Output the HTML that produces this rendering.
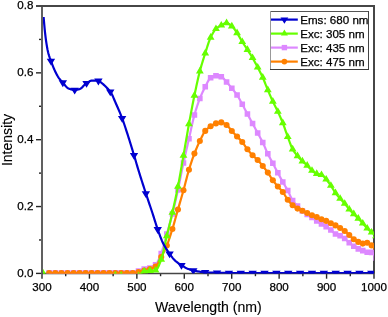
<!DOCTYPE html>
<html><head><meta charset="utf-8"><style>html,body{margin:0;padding:0;background:#fff;width:388px;height:317px;overflow:hidden}svg{display:block}</style></head>
<body><svg width="388" height="317" viewBox="0 0 388 317" style="will-change:transform">
<defs><clipPath id="pc"><rect x="43" y="7" width="330.9" height="266.4"/></clipPath></defs>
<rect width="388" height="317" fill="#fff"/>
<g stroke="#262626" stroke-width="1.4" fill="none"><line x1="42.00" y1="273" x2="42.00" y2="278.70"/><line x1="65.71" y1="273" x2="65.71" y2="276.20"/><line x1="89.43" y1="273" x2="89.43" y2="278.70"/><line x1="113.14" y1="273" x2="113.14" y2="276.20"/><line x1="136.86" y1="273" x2="136.86" y2="278.70"/><line x1="160.57" y1="273" x2="160.57" y2="276.20"/><line x1="184.29" y1="273" x2="184.29" y2="278.70"/><line x1="208.00" y1="273" x2="208.00" y2="276.20"/><line x1="231.71" y1="273" x2="231.71" y2="278.70"/><line x1="255.43" y1="273" x2="255.43" y2="276.20"/><line x1="279.14" y1="273" x2="279.14" y2="278.70"/><line x1="302.86" y1="273" x2="302.86" y2="276.20"/><line x1="326.57" y1="273" x2="326.57" y2="278.70"/><line x1="350.29" y1="273" x2="350.29" y2="276.20"/><line x1="374.00" y1="273" x2="374.00" y2="278.70"/><line x1="41.2" y1="273.40" x2="36.00" y2="273.40"/><line x1="41.2" y1="239.97" x2="39.00" y2="239.97"/><line x1="41.2" y1="206.55" x2="36.00" y2="206.55"/><line x1="41.2" y1="173.12" x2="39.00" y2="173.12"/><line x1="41.2" y1="139.70" x2="36.00" y2="139.70"/><line x1="41.2" y1="106.28" x2="39.00" y2="106.28"/><line x1="41.2" y1="72.85" x2="36.00" y2="72.85"/><line x1="41.2" y1="39.42" x2="39.00" y2="39.42"/><line x1="41.2" y1="6.00" x2="36.00" y2="6.00"/></g>
<line x1="42" y1="273.4" x2="374" y2="273.4" stroke="#464646" stroke-width="1.5"/>
<line x1="374" y1="5" x2="374" y2="273.4" stroke="#464646" stroke-width="2"/>
<g clip-path="url(#pc)">
<path d="M49.14,272.80 L49.64,272.80 L50.14,272.80 L50.64,272.80 L51.14,272.80 L51.64,272.80 L52.14,272.80 L52.64,272.80 L53.14,272.80 L53.64,272.80 L54.14,272.80 L54.64,272.80 L55.14,272.80 L55.64,272.80 L56.14,272.80 L56.64,272.80 L57.14,272.80 L57.64,272.80 L58.14,272.80 L58.64,272.80 L59.14,272.80 L59.64,272.80 L60.14,272.80 L60.64,272.80 L61.14,272.80 L61.64,272.80 L62.14,272.80 L62.64,272.80 L63.14,272.80 L63.64,272.80 L64.14,272.80 L64.64,272.80 L65.14,272.80 L65.64,272.80 L66.14,272.80 L66.64,272.80 L67.14,272.80 L67.64,272.80 L68.14,272.80 L68.64,272.80 L69.14,272.80 L69.64,272.80 L70.14,272.80 L70.64,272.80 L71.14,272.80 L71.64,272.80 L72.14,272.80 L72.64,272.80 L73.14,272.80 L73.64,272.80 L74.14,272.80 L74.64,272.80 L75.14,272.80 L75.64,272.80 L76.14,272.80 L76.64,272.80 L77.14,272.80 L77.64,272.80 L78.14,272.80 L78.64,272.80 L79.14,272.80 L79.64,272.80 L80.14,272.80 L80.64,272.80 L81.14,272.80 L81.64,272.80 L82.14,272.80 L82.64,272.80 L83.14,272.80 L83.64,272.80 L84.14,272.80 L84.64,272.80 L85.14,272.80 L85.64,272.80 L86.14,272.80 L86.64,272.80 L87.14,272.80 L87.64,272.80 L88.14,272.80 L88.64,272.80 L89.14,272.80 L89.64,272.80 L90.14,272.80 L90.64,272.80 L91.14,272.80 L91.64,272.80 L92.14,272.80 L92.64,272.80 L93.14,272.80 L93.64,272.80 L94.14,272.80 L94.64,272.80 L95.14,272.80 L95.64,272.80 L96.14,272.80 L96.64,272.80 L97.14,272.80 L97.64,272.80 L98.14,272.80 L98.64,272.80 L99.14,272.80 L99.64,272.80 L100.14,272.80 L100.64,272.80 L101.14,272.80 L101.64,272.80 L102.14,272.80 L102.64,272.80 L103.14,272.80 L103.64,272.80 L104.14,272.80 L104.64,272.80 L105.14,272.80 L105.64,272.80 L106.14,272.80 L106.64,272.80 L107.14,272.80 L107.64,272.80 L108.14,272.80 L108.64,272.80 L109.14,272.80 L109.64,272.80 L110.14,272.80 L110.64,272.80 L111.14,272.80 L111.64,272.80 L112.14,272.80 L112.64,272.80 L113.14,272.80 L113.64,272.80 L114.14,272.80 L114.64,272.80 L115.14,272.80 L115.64,272.80 L116.14,272.80 L116.64,272.80 L117.14,272.80 L117.64,272.80 L118.14,272.80 L118.64,272.80 L119.14,272.80 L119.64,272.80 L120.14,272.80 L120.64,272.80 L121.14,272.80 L121.64,272.80 L122.14,272.80 L122.64,272.80 L123.14,272.80 L123.64,272.80 L124.14,272.80 L124.64,272.80 L125.14,272.80 L125.64,272.80 L126.14,272.80 L126.64,272.80 L127.14,272.80 L127.64,272.80 L128.14,272.80 L128.64,272.80 L129.14,272.80 L129.64,272.80 L130.14,272.80 L130.64,272.80 L131.14,272.80 L131.64,272.80 L132.14,272.80 L132.64,272.80 L133.14,272.78 L133.64,272.72 L134.14,272.62 L134.64,272.48 L135.14,272.31 L135.64,272.13 L136.14,271.93 L136.64,271.72 L137.14,271.51 L137.64,271.31 L138.14,271.12 L138.64,270.95 L139.14,270.78 L139.64,270.59 L140.14,270.40 L140.64,270.21 L141.14,270.01 L141.64,269.82 L142.14,269.64 L142.64,269.46 L143.14,269.30 L143.64,269.15 L144.14,269.02 L144.64,268.91 L145.14,268.81 L145.64,268.73 L146.14,268.65 L146.64,268.58 L147.14,268.51 L147.64,268.44 L148.14,268.37 L148.64,268.28 L149.14,268.18 L149.64,268.07 L150.14,267.94 L150.64,267.78 L151.14,267.60 L151.64,267.39 L152.14,267.15 L152.64,266.89 L153.14,266.60 L153.64,266.29 L154.14,265.95 L154.64,265.57 L155.14,265.17 L155.64,264.74 L156.14,264.21 L156.64,263.54 L157.14,262.75 L157.64,261.85 L158.14,260.86 L158.64,259.78 L159.14,258.64 L159.64,257.45 L160.14,256.22 L160.64,254.96 L161.14,253.68 L161.64,252.36 L162.14,250.88 L162.64,249.29 L163.14,247.59 L163.64,245.82 L164.14,243.98 L164.64,242.11 L165.14,240.21 L165.64,238.32 L166.14,236.46 L166.64,234.64 L167.14,232.87 L167.64,231.13 L168.14,229.39 L168.64,227.65 L169.14,225.91 L169.64,224.16 L170.14,222.39 L170.64,220.60 L171.14,218.77 L171.64,216.91 L172.14,215.00 L172.64,213.04 L173.14,211.04 L173.64,208.99 L174.14,206.89 L174.64,204.77 L175.14,202.60 L175.64,200.41 L176.14,198.19 L176.64,195.95 L177.14,193.68 L177.64,191.40 L178.14,189.11 L178.64,186.75 L179.14,184.33 L179.64,181.87 L180.14,179.37 L180.64,176.86 L181.14,174.35 L181.64,171.84 L182.14,169.36 L182.64,166.92 L183.14,164.53 L183.64,162.20 L184.14,159.91 L184.64,157.65 L185.14,155.43 L185.64,153.22 L186.14,151.04 L186.64,148.86 L187.14,146.69 L187.64,144.53 L188.14,142.36 L188.64,140.18 L189.14,137.99 L189.64,135.75 L190.14,133.47 L190.64,131.16 L191.14,128.86 L191.64,126.57 L192.14,124.31 L192.64,122.11 L193.14,119.98 L193.64,117.94 L194.14,116.02 L194.64,114.21 L195.14,112.47 L195.64,110.78 L196.14,109.14 L196.64,107.56 L197.14,106.02 L197.64,104.53 L198.14,103.09 L198.64,101.69 L199.14,100.34 L199.64,99.03 L200.14,97.77 L200.64,96.55 L201.14,95.37 L201.64,94.22 L202.14,93.11 L202.64,92.03 L203.14,90.98 L203.64,89.95 L204.14,88.95 L204.64,87.97 L205.14,87.01 L205.64,86.05 L206.14,85.06 L206.64,84.04 L207.14,83.02 L207.64,82.03 L208.14,81.09 L208.64,80.21 L209.14,79.42 L209.64,78.74 L210.14,78.19 L210.64,77.79 L211.14,77.48 L211.64,77.18 L212.14,76.90 L212.64,76.63 L213.14,76.40 L213.64,76.19 L214.14,76.01 L214.64,75.87 L215.14,75.77 L215.64,75.71 L216.14,75.70 L216.64,75.72 L217.14,75.76 L217.64,75.82 L218.14,75.90 L218.64,75.99 L219.14,76.10 L219.64,76.22 L220.14,76.36 L220.64,76.50 L221.14,76.65 L221.64,76.84 L222.14,77.13 L222.64,77.52 L223.14,77.98 L223.64,78.51 L224.14,79.08 L224.64,79.68 L225.14,80.30 L225.64,80.91 L226.14,81.51 L226.64,82.07 L227.14,82.63 L227.64,83.20 L228.14,83.78 L228.64,84.38 L229.14,84.98 L229.64,85.59 L230.14,86.20 L230.64,86.82 L231.14,87.44 L231.64,88.06 L232.14,88.68 L232.64,89.29 L233.14,89.90 L233.64,90.50 L234.14,91.11 L234.64,91.73 L235.14,92.36 L235.64,93.01 L236.14,93.69 L236.64,94.39 L237.14,95.12 L237.64,95.89 L238.14,96.71 L238.64,97.56 L239.14,98.44 L239.64,99.34 L240.14,100.26 L240.64,101.19 L241.14,102.13 L241.64,103.06 L242.14,103.98 L242.64,104.90 L243.14,105.84 L243.64,106.78 L244.14,107.73 L244.64,108.68 L245.14,109.64 L245.64,110.60 L246.14,111.56 L246.64,112.51 L247.14,113.46 L247.64,114.40 L248.14,115.33 L248.64,116.26 L249.14,117.18 L249.64,118.10 L250.14,119.02 L250.64,119.94 L251.14,120.86 L251.64,121.78 L252.14,122.71 L252.64,123.63 L253.14,124.56 L253.64,125.49 L254.14,126.41 L254.64,127.34 L255.14,128.27 L255.64,129.20 L256.14,130.13 L256.64,131.06 L257.14,131.99 L257.64,132.93 L258.14,133.85 L258.64,134.77 L259.14,135.67 L259.64,136.58 L260.14,137.49 L260.64,138.41 L261.14,139.34 L261.64,140.29 L262.14,141.26 L262.64,142.25 L263.14,143.28 L263.64,144.37 L264.14,145.49 L264.64,146.63 L265.14,147.79 L265.64,148.96 L266.14,150.12 L266.64,151.26 L267.14,152.37 L267.64,153.44 L268.14,154.46 L268.64,155.45 L269.14,156.42 L269.64,157.36 L270.14,158.30 L270.64,159.22 L271.14,160.14 L271.64,161.06 L272.14,161.99 L272.64,162.92 L273.14,163.87 L273.64,164.82 L274.14,165.77 L274.64,166.73 L275.14,167.68 L275.64,168.64 L276.14,169.59 L276.64,170.54 L277.14,171.49 L277.64,172.43 L278.14,173.37 L278.64,174.31 L279.14,175.25 L279.64,176.19 L280.14,177.13 L280.64,178.06 L281.14,178.98 L281.64,179.90 L282.14,180.81 L282.64,181.71 L283.14,182.60 L283.64,183.46 L284.14,184.31 L284.64,185.15 L285.14,185.98 L285.64,186.82 L286.14,187.67 L286.64,188.53 L287.14,189.41 L287.64,190.32 L288.14,191.28 L288.64,192.32 L289.14,193.40 L289.64,194.52 L290.14,195.64 L290.64,196.74 L291.14,197.80 L291.64,198.80 L292.14,199.70 L292.64,200.49 L293.14,201.19 L293.64,201.83 L294.14,202.43 L294.64,203.00 L295.14,203.54 L295.64,204.06 L296.14,204.57 L296.64,205.08 L297.14,205.59 L297.64,206.13 L298.14,206.67 L298.64,207.22 L299.14,207.76 L299.64,208.31 L300.14,208.84 L300.64,209.36 L301.14,209.86 L301.64,210.34 L302.14,210.80 L302.64,211.22 L303.14,211.63 L303.64,212.02 L304.14,212.39 L304.64,212.76 L305.14,213.11 L305.64,213.45 L306.14,213.79 L306.64,214.13 L307.14,214.46 L307.64,214.80 L308.14,215.11 L308.64,215.42 L309.14,215.73 L309.64,216.03 L310.14,216.33 L310.64,216.64 L311.14,216.95 L311.64,217.27 L312.14,217.61 L312.64,217.96 L313.14,218.32 L313.64,218.70 L314.14,219.08 L314.64,219.46 L315.14,219.84 L315.64,220.21 L316.14,220.58 L316.64,220.93 L317.14,221.27 L317.64,221.60 L318.14,221.92 L318.64,222.24 L319.14,222.56 L319.64,222.87 L320.14,223.18 L320.64,223.49 L321.14,223.79 L321.64,224.10 L322.14,224.40 L322.64,224.70 L323.14,224.99 L323.64,225.28 L324.14,225.57 L324.64,225.86 L325.14,226.16 L325.64,226.46 L326.14,226.77 L326.64,227.09 L327.14,227.42 L327.64,227.74 L328.14,228.07 L328.64,228.41 L329.14,228.75 L329.64,229.10 L330.14,229.47 L330.64,229.84 L331.14,230.23 L331.64,230.66 L332.14,231.12 L332.64,231.61 L333.14,232.09 L333.64,232.57 L334.14,233.02 L334.64,233.43 L335.14,233.79 L335.64,234.07 L336.14,234.31 L336.64,234.52 L337.14,234.71 L337.64,234.88 L338.14,235.05 L338.64,235.22 L339.14,235.39 L339.64,235.59 L340.14,235.81 L340.64,236.05 L341.14,236.30 L341.64,236.57 L342.14,236.85 L342.64,237.14 L343.14,237.44 L343.64,237.77 L344.14,238.10 L344.64,238.45 L345.14,238.84 L345.64,239.27 L346.14,239.74 L346.64,240.23 L347.14,240.74 L347.64,241.25 L348.14,241.76 L348.64,242.24 L349.14,242.70 L349.64,243.12 L350.14,243.54 L350.64,243.95 L351.14,244.35 L351.64,244.75 L352.14,245.13 L352.64,245.50 L353.14,245.86 L353.64,246.20 L354.14,246.53 L354.64,246.85 L355.14,247.17 L355.64,247.48 L356.14,247.77 L356.64,248.06 L357.14,248.33 L357.64,248.59 L358.14,248.83 L358.64,249.06 L359.14,249.27 L359.64,249.47 L360.14,249.66 L360.64,249.84 L361.14,250.02 L361.64,250.20 L362.14,250.37 L362.64,250.56 L363.14,250.75 L363.64,250.96 L364.14,251.19 L364.64,251.41 L365.14,251.63 L365.64,251.82 L366.14,251.99 L366.64,252.12 L367.14,252.19 L367.64,252.23 L368.14,252.26 L368.64,252.27 L369.14,252.29 L369.64,252.30 L370.14,252.32 L370.64,252.34 L371.14,252.36 L371.64,252.40 L372.14,252.55 L372.64,252.88 L373.14,253.37 L373.64,253.98 L374.14,254.71 L374.64,255.53 L375.14,256.41 L375.64,257.33 L376.00,258.00" fill="none" stroke="#dd88ff" stroke-width="2.2" stroke-linejoin="round"/>
<path d="M46.34,270.00h5.6v5.6h-5.6ZM52.50,270.00h5.6v5.6h-5.6ZM58.63,270.00h5.6v5.6h-5.6ZM64.74,270.00h5.6v5.6h-5.6ZM70.81,270.00h5.6v5.6h-5.6ZM76.85,270.00h5.6v5.6h-5.6ZM82.87,270.00h5.6v5.6h-5.6ZM88.85,270.00h5.6v5.6h-5.6ZM94.81,270.00h5.6v5.6h-5.6ZM100.74,270.00h5.6v5.6h-5.6ZM106.64,270.00h5.6v5.6h-5.6ZM112.51,270.00h5.6v5.6h-5.6ZM118.35,270.00h5.6v5.6h-5.6ZM124.16,270.00h5.6v5.6h-5.6ZM129.94,270.00h5.6v5.6h-5.6ZM135.69,268.20h5.6v5.6h-5.6ZM141.42,266.20h5.6v5.6h-5.6ZM147.11,265.20h5.6v5.6h-5.6ZM152.78,262.00h5.6v5.6h-5.6ZM158.41,250.70h5.6v5.6h-5.6ZM164.02,231.20h5.6v5.6h-5.6ZM169.60,211.20h5.6v5.6h-5.6ZM175.15,187.20h5.6v5.6h-5.6ZM180.67,160.20h5.6v5.6h-5.6ZM186.16,136.00h5.6v5.6h-5.6ZM191.62,112.20h5.6v5.6h-5.6ZM197.05,95.70h5.6v5.6h-5.6ZM202.45,84.00h5.6v5.6h-5.6ZM207.83,75.00h5.6v5.6h-5.6ZM213.17,72.90h5.6v5.6h-5.6ZM218.49,73.90h5.6v5.6h-5.6ZM223.77,79.20h5.6v5.6h-5.6ZM229.03,85.50h5.6v5.6h-5.6ZM234.26,92.20h5.6v5.6h-5.6ZM239.46,101.40h5.6v5.6h-5.6ZM244.63,111.20h5.6v5.6h-5.6ZM249.77,120.70h5.6v5.6h-5.6ZM254.88,130.20h5.6v5.6h-5.6ZM259.96,139.70h5.6v5.6h-5.6ZM265.02,151.00h5.6v5.6h-5.6ZM270.04,160.50h5.6v5.6h-5.6ZM275.04,170.00h5.6v5.6h-5.6ZM280.00,179.20h5.6v5.6h-5.6ZM284.94,187.70h5.6v5.6h-5.6ZM289.85,197.70h5.6v5.6h-5.6ZM294.72,203.20h5.6v5.6h-5.6ZM299.57,208.20h5.6v5.6h-5.6ZM304.39,211.70h5.6v5.6h-5.6ZM309.18,214.70h5.6v5.6h-5.6ZM313.95,218.20h5.6v5.6h-5.6ZM318.68,221.20h5.6v5.6h-5.6ZM323.38,224.00h5.6v5.6h-5.6ZM328.06,227.20h5.6v5.6h-5.6ZM332.70,231.20h5.6v5.6h-5.6ZM337.32,233.00h5.6v5.6h-5.6ZM341.90,235.70h5.6v5.6h-5.6ZM346.46,240.00h5.6v5.6h-5.6ZM350.99,243.50h5.6v5.6h-5.6ZM355.49,246.10h5.6v5.6h-5.6ZM359.96,247.80h5.6v5.6h-5.6ZM364.40,249.40h5.6v5.6h-5.6ZM368.81,249.60h5.6v5.6h-5.6ZM373.20,255.20h5.6v5.6h-5.6Z" fill="#dd88ff"/>
<path d="M49.14,273.10 L49.64,273.10 L50.14,273.10 L50.64,273.10 L51.14,273.10 L51.64,273.10 L52.14,273.10 L52.64,273.10 L53.14,273.10 L53.64,273.10 L54.14,273.10 L54.64,273.10 L55.14,273.10 L55.64,273.10 L56.14,273.10 L56.64,273.10 L57.14,273.10 L57.64,273.10 L58.14,273.10 L58.64,273.10 L59.14,273.10 L59.64,273.10 L60.14,273.10 L60.64,273.10 L61.14,273.10 L61.64,273.10 L62.14,273.10 L62.64,273.10 L63.14,273.10 L63.64,273.10 L64.14,273.10 L64.64,273.10 L65.14,273.10 L65.64,273.10 L66.14,273.10 L66.64,273.10 L67.14,273.10 L67.64,273.10 L68.14,273.10 L68.64,273.10 L69.14,273.10 L69.64,273.10 L70.14,273.10 L70.64,273.10 L71.14,273.10 L71.64,273.10 L72.14,273.10 L72.64,273.10 L73.14,273.10 L73.64,273.10 L74.14,273.10 L74.64,273.10 L75.14,273.10 L75.64,273.10 L76.14,273.10 L76.64,273.09 L77.14,273.09 L77.64,273.09 L78.14,273.09 L78.64,273.09 L79.14,273.09 L79.64,273.09 L80.14,273.09 L80.64,273.09 L81.14,273.09 L81.64,273.09 L82.14,273.09 L82.64,273.09 L83.14,273.09 L83.64,273.09 L84.14,273.09 L84.64,273.09 L85.14,273.09 L85.64,273.09 L86.14,273.09 L86.64,273.09 L87.14,273.09 L87.64,273.09 L88.14,273.09 L88.64,273.09 L89.14,273.09 L89.64,273.09 L90.14,273.09 L90.64,273.09 L91.14,273.08 L91.64,273.08 L92.14,273.08 L92.64,273.08 L93.14,273.08 L93.64,273.08 L94.14,273.08 L94.64,273.08 L95.14,273.08 L95.64,273.08 L96.14,273.08 L96.64,273.08 L97.14,273.08 L97.64,273.08 L98.14,273.08 L98.64,273.08 L99.14,273.08 L99.64,273.07 L100.14,273.07 L100.64,273.07 L101.14,273.07 L101.64,273.07 L102.14,273.07 L102.64,273.07 L103.14,273.07 L103.64,273.07 L104.14,273.07 L104.64,273.07 L105.14,273.07 L105.64,273.07 L106.14,273.07 L106.64,273.06 L107.14,273.06 L107.64,273.06 L108.14,273.06 L108.64,273.06 L109.14,273.06 L109.64,273.06 L110.14,273.06 L110.64,273.06 L111.14,273.06 L111.64,273.06 L112.14,273.05 L112.64,273.05 L113.14,273.05 L113.64,273.05 L114.14,273.05 L114.64,273.05 L115.14,273.05 L115.64,273.05 L116.14,273.05 L116.64,273.04 L117.14,273.04 L117.64,273.04 L118.14,273.04 L118.64,273.04 L119.14,273.04 L119.64,273.04 L120.14,273.04 L120.64,273.04 L121.14,273.03 L121.64,273.03 L122.14,273.03 L122.64,273.03 L123.14,273.03 L123.64,273.03 L124.14,273.03 L124.64,273.02 L125.14,273.02 L125.64,273.02 L126.14,273.02 L126.64,273.02 L127.14,273.02 L127.64,273.02 L128.14,273.01 L128.64,273.01 L129.14,273.01 L129.64,273.01 L130.14,273.01 L130.64,273.01 L131.14,273.01 L131.64,273.00 L132.14,273.00 L132.64,273.00 L133.14,272.99 L133.64,272.96 L134.14,272.90 L134.64,272.83 L135.14,272.74 L135.64,272.64 L136.14,272.53 L136.64,272.42 L137.14,272.30 L137.64,272.19 L138.14,272.08 L138.64,271.97 L139.14,271.86 L139.64,271.74 L140.14,271.61 L140.64,271.48 L141.14,271.35 L141.64,271.21 L142.14,271.07 L142.64,270.93 L143.14,270.79 L143.64,270.65 L144.14,270.52 L144.64,270.39 L145.14,270.27 L145.64,270.14 L146.14,270.02 L146.64,269.90 L147.14,269.78 L147.64,269.65 L148.14,269.52 L148.64,269.39 L149.14,269.24 L149.64,269.09 L150.14,268.92 L150.64,268.76 L151.14,268.60 L151.64,268.42 L152.14,268.25 L152.64,268.05 L153.14,267.85 L153.64,267.62 L154.14,267.37 L154.64,267.10 L155.14,266.79 L155.64,266.45 L156.14,266.01 L156.64,265.42 L157.14,264.72 L157.64,263.92 L158.14,263.03 L158.64,262.09 L159.14,261.11 L159.64,260.10 L160.14,259.09 L160.64,258.09 L161.14,257.13 L161.64,256.21 L162.14,255.27 L162.64,254.33 L163.14,253.37 L163.64,252.40 L164.14,251.40 L164.64,250.38 L165.14,249.32 L165.64,248.23 L166.14,247.10 L166.64,245.93 L167.14,244.71 L167.64,243.42 L168.14,242.07 L168.64,240.66 L169.14,239.20 L169.64,237.71 L170.14,236.17 L170.64,234.61 L171.14,233.03 L171.64,231.43 L172.14,229.83 L172.64,228.21 L173.14,226.56 L173.64,224.86 L174.14,223.12 L174.64,221.35 L175.14,219.56 L175.64,217.76 L176.14,215.95 L176.64,214.15 L177.14,212.35 L177.64,210.58 L178.14,208.82 L178.64,207.09 L179.14,205.36 L179.64,203.64 L180.14,201.92 L180.64,200.20 L181.14,198.48 L181.64,196.75 L182.14,195.00 L182.64,193.24 L183.14,191.47 L183.64,189.67 L184.14,187.82 L184.64,185.93 L185.14,184.00 L185.64,182.06 L186.14,180.12 L186.64,178.19 L187.14,176.29 L187.64,174.42 L188.14,172.61 L188.64,170.86 L189.14,169.20 L189.64,167.57 L190.14,165.97 L190.64,164.40 L191.14,162.87 L191.64,161.36 L192.14,159.89 L192.64,158.45 L193.14,157.04 L193.64,155.67 L194.14,154.33 L194.64,153.02 L195.14,151.75 L195.64,150.50 L196.14,149.28 L196.64,148.09 L197.14,146.92 L197.64,145.78 L198.14,144.66 L198.64,143.56 L199.14,142.49 L199.64,141.44 L200.14,140.40 L200.64,139.34 L201.14,138.28 L201.64,137.22 L202.14,136.18 L202.64,135.17 L203.14,134.20 L203.64,133.30 L204.14,132.46 L204.64,131.70 L205.14,131.04 L205.64,130.46 L206.14,129.92 L206.64,129.42 L207.14,128.95 L207.64,128.51 L208.14,128.09 L208.64,127.70 L209.14,127.33 L209.64,126.97 L210.14,126.63 L210.64,126.29 L211.14,125.96 L211.64,125.63 L212.14,125.30 L212.64,124.99 L213.14,124.69 L213.64,124.40 L214.14,124.14 L214.64,123.89 L215.14,123.68 L215.64,123.50 L216.14,123.35 L216.64,123.21 L217.14,123.08 L217.64,122.95 L218.14,122.82 L218.64,122.71 L219.14,122.61 L219.64,122.53 L220.14,122.47 L220.64,122.42 L221.14,122.40 L221.64,122.42 L222.14,122.50 L222.64,122.65 L223.14,122.84 L223.64,123.09 L224.14,123.37 L224.64,123.68 L225.14,124.01 L225.64,124.35 L226.14,124.70 L226.64,125.05 L227.14,125.44 L227.64,125.92 L228.14,126.45 L228.64,127.04 L229.14,127.65 L229.64,128.29 L230.14,128.94 L230.64,129.58 L231.14,130.20 L231.64,130.79 L232.14,131.34 L232.64,131.88 L233.14,132.41 L233.64,132.94 L234.14,133.46 L234.64,133.98 L235.14,134.50 L235.64,135.02 L236.14,135.54 L236.64,136.06 L237.14,136.59 L237.64,137.10 L238.14,137.61 L238.64,138.12 L239.14,138.62 L239.64,139.13 L240.14,139.64 L240.64,140.17 L241.14,140.71 L241.64,141.27 L242.14,141.86 L242.64,142.48 L243.14,143.14 L243.64,143.84 L244.14,144.56 L244.64,145.30 L245.14,146.05 L245.64,146.80 L246.14,147.53 L246.64,148.24 L247.14,148.92 L247.64,149.57 L248.14,150.20 L248.64,150.82 L249.14,151.44 L249.64,152.04 L250.14,152.63 L250.64,153.20 L251.14,153.77 L251.64,154.32 L252.14,154.85 L252.64,155.37 L253.14,155.87 L253.64,156.34 L254.14,156.79 L254.64,157.23 L255.14,157.66 L255.64,158.09 L256.14,158.53 L256.64,158.99 L257.14,159.46 L257.64,159.96 L258.14,160.48 L258.64,161.03 L259.14,161.60 L259.64,162.18 L260.14,162.77 L260.64,163.38 L261.14,163.99 L261.64,164.61 L262.14,165.23 L262.64,165.85 L263.14,166.47 L263.64,167.09 L264.14,167.72 L264.64,168.36 L265.14,169.00 L265.64,169.65 L266.14,170.31 L266.64,170.98 L267.14,171.66 L267.64,172.35 L268.14,173.07 L268.64,173.81 L269.14,174.58 L269.64,175.37 L270.14,176.17 L270.64,176.97 L271.14,177.77 L271.64,178.55 L272.14,179.30 L272.64,180.02 L273.14,180.71 L273.64,181.37 L274.14,182.02 L274.64,182.66 L275.14,183.28 L275.64,183.89 L276.14,184.50 L276.64,185.09 L277.14,185.68 L277.64,186.27 L278.14,186.85 L278.64,187.41 L279.14,187.94 L279.64,188.47 L280.14,188.99 L280.64,189.51 L281.14,190.05 L281.64,190.60 L282.14,191.18 L282.64,191.79 L283.14,192.46 L283.64,193.18 L284.14,193.97 L284.64,194.78 L285.14,195.62 L285.64,196.46 L286.14,197.29 L286.64,198.10 L287.14,198.86 L287.64,199.57 L288.14,200.23 L288.64,200.88 L289.14,201.51 L289.64,202.13 L290.14,202.73 L290.64,203.30 L291.14,203.85 L291.64,204.37 L292.14,204.85 L292.64,205.30 L293.14,205.71 L293.64,206.10 L294.14,206.48 L294.64,206.83 L295.14,207.17 L295.64,207.50 L296.14,207.81 L296.64,208.10 L297.14,208.39 L297.64,208.66 L298.14,208.92 L298.64,209.17 L299.14,209.40 L299.64,209.62 L300.14,209.84 L300.64,210.05 L301.14,210.26 L301.64,210.48 L302.14,210.70 L302.64,210.92 L303.14,211.15 L303.64,211.38 L304.14,211.61 L304.64,211.83 L305.14,212.06 L305.64,212.29 L306.14,212.52 L306.64,212.75 L307.14,212.98 L307.64,213.21 L308.14,213.44 L308.64,213.68 L309.14,213.91 L309.64,214.15 L310.14,214.38 L310.64,214.61 L311.14,214.84 L311.64,215.06 L312.14,215.26 L312.64,215.46 L313.14,215.65 L313.64,215.84 L314.14,216.02 L314.64,216.20 L315.14,216.38 L315.64,216.56 L316.14,216.76 L316.64,216.96 L317.14,217.17 L317.64,217.40 L318.14,217.63 L318.64,217.87 L319.14,218.12 L319.64,218.36 L320.14,218.61 L320.64,218.84 L321.14,219.06 L321.64,219.27 L322.14,219.46 L322.64,219.64 L323.14,219.81 L323.64,219.98 L324.14,220.15 L324.64,220.32 L325.14,220.50 L325.64,220.68 L326.14,220.88 L326.64,221.10 L327.14,221.33 L327.64,221.57 L328.14,221.82 L328.64,222.07 L329.14,222.33 L329.64,222.59 L330.14,222.85 L330.64,223.09 L331.14,223.34 L331.64,223.57 L332.14,223.80 L332.64,224.03 L333.14,224.26 L333.64,224.50 L334.14,224.73 L334.64,224.97 L335.14,225.22 L335.64,225.47 L336.14,225.73 L336.64,226.00 L337.14,226.27 L337.64,226.55 L338.14,226.84 L338.64,227.12 L339.14,227.42 L339.64,227.71 L340.14,228.01 L340.64,228.32 L341.14,228.62 L341.64,228.93 L342.14,229.24 L342.64,229.57 L343.14,229.90 L343.64,230.23 L344.14,230.59 L344.64,230.95 L345.14,231.34 L345.64,231.74 L346.14,232.16 L346.64,232.60 L347.14,233.05 L347.64,233.51 L348.14,233.97 L348.64,234.43 L349.14,234.89 L349.64,235.35 L350.14,235.84 L350.64,236.35 L351.14,236.86 L351.64,237.38 L352.14,237.87 L352.64,238.35 L353.14,238.79 L353.64,239.19 L354.14,239.55 L354.64,239.89 L355.14,240.21 L355.64,240.51 L356.14,240.80 L356.64,241.08 L357.14,241.34 L357.64,241.59 L358.14,241.83 L358.64,242.07 L359.14,242.32 L359.64,242.57 L360.14,242.82 L360.64,243.06 L361.14,243.26 L361.64,243.43 L362.14,243.54 L362.64,243.60 L363.14,243.58 L363.64,243.52 L364.14,243.42 L364.64,243.29 L365.14,243.16 L365.64,243.03 L366.14,242.92 L366.64,242.84 L367.14,242.80 L367.64,242.85 L368.14,243.02 L368.64,243.28 L369.14,243.61 L369.64,243.99 L370.14,244.38 L370.64,244.76 L371.14,245.12 L371.64,245.41 L372.14,245.68 L372.64,245.93 L373.14,246.18 L373.64,246.43 L374.14,246.67 L374.64,246.90 L375.14,247.13 L375.64,247.35 L376.00,247.50" fill="none" stroke="#ff8000" stroke-width="2.2" stroke-linejoin="round"/>
<g fill="#ff8000"><circle cx="49.14" cy="273.10" r="3.05"/><circle cx="55.30" cy="273.10" r="3.05"/><circle cx="61.43" cy="273.10" r="3.05"/><circle cx="67.54" cy="273.10" r="3.05"/><circle cx="73.61" cy="273.10" r="3.05"/><circle cx="79.65" cy="273.09" r="3.05"/><circle cx="85.67" cy="273.09" r="3.05"/><circle cx="91.65" cy="273.08" r="3.05"/><circle cx="97.61" cy="273.08" r="3.05"/><circle cx="103.54" cy="273.07" r="3.05"/><circle cx="109.44" cy="273.06" r="3.05"/><circle cx="115.31" cy="273.05" r="3.05"/><circle cx="121.15" cy="273.03" r="3.05"/><circle cx="126.96" cy="273.02" r="3.05"/><circle cx="132.74" cy="273.00" r="3.05"/><circle cx="138.49" cy="272.00" r="3.05"/><circle cx="144.22" cy="270.50" r="3.05"/><circle cx="149.91" cy="269.00" r="3.05"/><circle cx="155.58" cy="266.50" r="3.05"/><circle cx="161.21" cy="257.00" r="3.05"/><circle cx="166.82" cy="245.50" r="3.05"/><circle cx="172.40" cy="229.00" r="3.05"/><circle cx="177.95" cy="209.50" r="3.05"/><circle cx="183.47" cy="190.30" r="3.05"/><circle cx="188.96" cy="169.80" r="3.05"/><circle cx="194.42" cy="153.60" r="3.05"/><circle cx="199.85" cy="141.00" r="3.05"/><circle cx="205.25" cy="130.90" r="3.05"/><circle cx="210.63" cy="126.30" r="3.05"/><circle cx="215.97" cy="123.40" r="3.05"/><circle cx="221.29" cy="122.40" r="3.05"/><circle cx="226.57" cy="125.00" r="3.05"/><circle cx="231.83" cy="131.00" r="3.05"/><circle cx="237.06" cy="136.50" r="3.05"/><circle cx="242.26" cy="142.00" r="3.05"/><circle cx="247.43" cy="149.30" r="3.05"/><circle cx="252.57" cy="155.30" r="3.05"/><circle cx="257.68" cy="160.00" r="3.05"/><circle cx="262.76" cy="166.00" r="3.05"/><circle cx="267.82" cy="172.60" r="3.05"/><circle cx="272.84" cy="180.30" r="3.05"/><circle cx="277.84" cy="186.50" r="3.05"/><circle cx="282.80" cy="192.00" r="3.05"/><circle cx="287.74" cy="199.70" r="3.05"/><circle cx="292.65" cy="205.30" r="3.05"/><circle cx="297.52" cy="208.60" r="3.05"/><circle cx="302.37" cy="210.80" r="3.05"/><circle cx="307.19" cy="213.00" r="3.05"/><circle cx="311.98" cy="215.20" r="3.05"/><circle cx="316.75" cy="217.00" r="3.05"/><circle cx="321.48" cy="219.20" r="3.05"/><circle cx="326.18" cy="220.90" r="3.05"/><circle cx="330.86" cy="223.20" r="3.05"/><circle cx="335.50" cy="225.40" r="3.05"/><circle cx="340.12" cy="228.00" r="3.05"/><circle cx="344.70" cy="231.00" r="3.05"/><circle cx="349.26" cy="235.00" r="3.05"/><circle cx="353.79" cy="239.30" r="3.05"/><circle cx="358.29" cy="241.90" r="3.05"/><circle cx="362.76" cy="243.60" r="3.05"/><circle cx="367.20" cy="242.80" r="3.05"/><circle cx="371.61" cy="245.40" r="3.05"/><circle cx="376.00" cy="247.50" r="3.05"/></g>
<path d="M42.95,273.00 L43.45,273.47 L43.95,273.97 L44.45,274.50 L44.95,275.04 L45.45,275.57 L45.95,276.09 L46.45,276.57 L46.95,277.01 L47.45,277.38 L47.95,277.68 L48.45,277.89 L48.95,277.99 L49.45,278.00 L49.95,278.00 L50.45,278.00 L50.95,278.00 L51.45,278.00 L51.95,278.00 L52.45,278.00 L52.95,278.00 L53.45,278.00 L53.95,278.00 L54.45,278.00 L54.95,278.00 L55.45,278.00 L55.95,278.00 L56.45,278.00 L56.95,278.00 L57.45,278.00 L57.95,278.00 L58.45,278.00 L58.95,278.00 L59.45,278.00 L59.95,278.00 L60.45,278.00 L60.95,278.00 L61.45,278.00 L61.95,278.00 L62.45,278.00 L62.95,278.00 L63.45,278.00 L63.95,278.00 L64.45,278.00 L64.95,278.00 L65.45,278.00 L65.95,278.00 L66.45,278.00 L66.95,278.00 L67.45,278.00 L67.95,278.00 L68.45,278.00 L68.95,278.00 L69.45,278.00 L69.95,278.00 L70.45,278.00 L70.95,278.00 L71.45,278.00 L71.95,278.00 L72.45,278.00 L72.95,278.00 L73.45,278.00 L73.95,278.00 L74.45,278.00 L74.95,278.00 L75.45,278.00 L75.95,278.00 L76.45,278.00 L76.95,278.00 L77.45,278.00 L77.95,278.00 L78.45,278.00 L78.95,278.00 L79.45,278.00 L79.95,278.00 L80.45,278.00 L80.95,278.00 L81.45,278.00 L81.95,278.00 L82.45,278.00 L82.95,278.00 L83.45,278.00 L83.95,278.00 L84.45,278.00 L84.95,278.00 L85.45,278.00 L85.95,278.00 L86.45,278.00 L86.95,278.00 L87.45,278.00 L87.95,278.00 L88.45,278.00 L88.95,278.00 L89.45,278.00 L89.95,278.00 L90.45,278.00 L90.95,278.00 L91.45,278.00 L91.95,278.00 L92.45,278.00 L92.95,278.00 L93.45,278.00 L93.95,278.00 L94.45,278.00 L94.95,278.00 L95.45,278.00 L95.95,278.00 L96.45,278.00 L96.95,278.00 L97.45,278.00 L97.95,278.00 L98.45,278.00 L98.95,278.00 L99.45,278.00 L99.95,278.00 L100.45,278.00 L100.95,278.00 L101.45,278.00 L101.95,278.00 L102.45,278.00 L102.95,278.00 L103.45,278.00 L103.95,278.00 L104.45,278.00 L104.95,278.00 L105.45,278.00 L105.95,278.00 L106.45,278.00 L106.95,278.00 L107.45,278.00 L107.95,278.00 L108.45,278.00 L108.95,278.00 L109.45,278.00 L109.95,277.94 L110.45,277.79 L110.95,277.55 L111.45,277.27 L111.95,276.94 L112.45,276.60 L112.95,276.26 L113.45,275.94 L113.95,275.67 L114.45,275.46 L114.95,275.33 L115.45,275.30 L115.95,275.30 L116.45,275.30 L116.95,275.30 L117.45,275.30 L117.95,275.30 L118.45,275.30 L118.95,275.30 L119.45,275.30 L119.95,275.30 L120.45,275.30 L120.95,275.30 L121.45,275.32 L121.95,275.44 L122.45,275.65 L122.95,275.92 L123.45,276.24 L123.95,276.58 L124.45,276.93 L124.95,277.26 L125.45,277.55 L125.95,277.78 L126.45,277.94 L126.95,278.00 L127.45,278.00 L127.95,278.00 L128.45,278.00 L128.95,278.00 L129.45,278.00 L129.95,278.00 L130.45,278.00 L130.95,278.00 L131.45,278.00 L131.95,278.00 L132.45,278.00 L132.95,278.00 L133.45,277.95 L133.95,277.87 L134.45,277.75 L134.95,277.60 L135.45,277.42 L135.95,277.21 L136.45,276.99 L136.95,276.76 L137.45,276.51 L137.95,276.27 L138.45,276.02 L138.95,275.73 L139.45,275.35 L139.95,274.90 L140.45,274.40 L140.95,273.87 L141.45,273.33 L141.95,272.82 L142.45,272.34 L142.95,271.93 L143.45,271.59 L143.95,271.37 L144.45,271.26 L144.95,271.18 L145.45,271.10 L145.95,271.04 L146.45,270.99 L146.95,270.94 L147.45,270.89 L147.95,270.85 L148.45,270.81 L148.95,270.78 L149.45,270.74 L149.95,270.70 L150.45,270.66 L150.95,270.63 L151.45,270.60 L151.95,270.58 L152.45,270.55 L152.95,270.53 L153.45,270.50 L153.95,270.46 L154.45,270.42 L154.95,270.38 L155.45,270.32 L155.95,270.18 L156.45,269.82 L156.95,269.25 L157.45,268.49 L157.95,267.58 L158.45,266.54 L158.95,265.38 L159.45,264.15 L159.95,262.85 L160.45,261.53 L160.95,260.19 L161.45,258.84 L161.95,257.28 L162.45,255.49 L162.95,253.51 L163.45,251.39 L163.95,249.15 L164.45,246.84 L164.95,244.49 L165.45,242.14 L165.95,239.83 L166.45,237.59 L166.95,235.45 L167.45,233.36 L167.95,231.29 L168.45,229.22 L168.95,227.15 L169.45,225.07 L169.95,222.99 L170.45,220.89 L170.95,218.78 L171.45,216.64 L171.95,214.47 L172.45,212.27 L172.95,210.04 L173.45,207.81 L173.95,205.56 L174.45,203.29 L174.95,200.99 L175.45,198.67 L175.95,196.32 L176.45,193.92 L176.95,191.49 L177.45,189.01 L177.95,186.48 L178.45,183.88 L178.95,181.21 L179.45,178.48 L179.95,175.69 L180.45,172.85 L180.95,169.99 L181.45,167.11 L181.95,164.21 L182.45,161.32 L182.95,158.45 L183.45,155.59 L183.95,152.74 L184.45,149.86 L184.95,146.95 L185.45,144.04 L185.95,141.13 L186.45,138.22 L186.95,135.32 L187.45,132.45 L187.95,129.60 L188.45,126.79 L188.95,124.04 L189.45,121.31 L189.95,118.59 L190.45,115.89 L190.95,113.21 L191.45,110.56 L191.95,107.93 L192.45,105.33 L192.95,102.77 L193.45,100.25 L193.95,97.78 L194.45,95.34 L194.95,92.94 L195.45,90.55 L195.95,88.17 L196.45,85.82 L196.95,83.51 L197.45,81.24 L197.95,79.02 L198.45,76.87 L198.95,74.77 L199.45,72.76 L199.95,70.82 L200.45,68.96 L200.95,67.16 L201.45,65.41 L201.95,63.71 L202.45,62.06 L202.95,60.43 L203.45,58.84 L203.95,57.26 L204.45,55.70 L204.95,54.14 L205.45,52.58 L205.95,51.00 L206.45,49.39 L206.95,47.78 L207.45,46.18 L207.95,44.62 L208.45,43.11 L208.95,41.66 L209.45,40.29 L209.95,39.03 L210.45,37.88 L210.95,36.84 L211.45,35.83 L211.95,34.86 L212.45,33.93 L212.95,33.04 L213.45,32.20 L213.95,31.42 L214.45,30.69 L214.95,30.03 L215.45,29.44 L215.95,28.92 L216.45,28.46 L216.95,28.04 L217.45,27.64 L217.95,27.28 L218.45,26.94 L218.95,26.62 L219.45,26.31 L219.95,26.03 L220.45,25.75 L220.95,25.48 L221.45,25.21 L221.95,24.93 L222.45,24.64 L222.95,24.35 L223.45,24.06 L223.95,23.79 L224.45,23.54 L224.95,23.33 L225.45,23.17 L225.95,23.05 L226.45,23.00 L226.95,23.03 L227.45,23.14 L227.95,23.32 L228.45,23.57 L228.95,23.88 L229.45,24.23 L229.95,24.62 L230.45,25.03 L230.95,25.45 L231.45,25.88 L231.95,26.30 L232.45,26.77 L232.95,27.30 L233.45,27.88 L233.95,28.51 L234.45,29.18 L234.95,29.88 L235.45,30.61 L235.95,31.35 L236.45,32.09 L236.95,32.84 L237.45,33.59 L237.95,34.40 L238.45,35.24 L238.95,36.11 L239.45,36.99 L239.95,37.89 L240.45,38.79 L240.95,39.68 L241.45,40.55 L241.95,41.40 L242.45,42.21 L242.95,42.99 L243.45,43.76 L243.95,44.51 L244.45,45.25 L244.95,45.99 L245.45,46.73 L245.95,47.47 L246.45,48.21 L246.95,48.97 L247.45,49.73 L247.95,50.51 L248.45,51.28 L248.95,52.06 L249.45,52.83 L249.95,53.62 L250.45,54.41 L250.95,55.21 L251.45,56.02 L251.95,56.85 L252.45,57.70 L252.95,58.56 L253.45,59.44 L253.95,60.35 L254.45,61.26 L254.95,62.19 L255.45,63.13 L255.95,64.08 L256.45,65.04 L256.95,66.00 L257.45,66.96 L257.95,67.92 L258.45,68.87 L258.95,69.82 L259.45,70.78 L259.95,71.74 L260.45,72.72 L260.95,73.71 L261.45,74.72 L261.95,75.75 L262.45,76.82 L262.95,77.92 L263.45,79.07 L263.95,80.27 L264.45,81.51 L264.95,82.77 L265.45,84.05 L265.95,85.34 L266.45,86.62 L266.95,87.88 L267.45,89.12 L267.95,90.32 L268.45,91.50 L268.95,92.68 L269.45,93.86 L269.95,95.02 L270.45,96.18 L270.95,97.32 L271.45,98.45 L271.95,99.56 L272.45,100.66 L272.95,101.74 L273.45,102.78 L273.95,103.80 L274.45,104.80 L274.95,105.79 L275.45,106.77 L275.95,107.75 L276.45,108.74 L276.95,109.75 L277.45,110.78 L277.95,111.85 L278.45,112.93 L278.95,114.02 L279.45,115.12 L279.95,116.24 L280.45,117.37 L280.95,118.52 L281.45,119.70 L281.95,120.90 L282.45,122.12 L282.95,123.38 L283.45,124.69 L283.95,126.06 L284.45,127.46 L284.95,128.89 L285.45,130.34 L285.95,131.79 L286.45,133.23 L286.95,134.65 L287.45,136.03 L287.95,137.37 L288.45,138.73 L288.95,140.12 L289.45,141.50 L289.95,142.88 L290.45,144.21 L290.95,145.50 L291.45,146.71 L291.95,147.83 L292.45,148.84 L292.95,149.74 L293.45,150.57 L293.95,151.35 L294.45,152.08 L294.95,152.78 L295.45,153.44 L295.95,154.08 L296.45,154.70 L296.95,155.31 L297.45,155.91 L297.95,156.51 L298.45,157.09 L298.95,157.66 L299.45,158.21 L299.95,158.75 L300.45,159.27 L300.95,159.79 L301.45,160.29 L301.95,160.79 L302.45,161.28 L302.95,161.75 L303.45,162.20 L303.95,162.64 L304.45,163.07 L304.95,163.49 L305.45,163.92 L305.95,164.36 L306.45,164.80 L306.95,165.27 L307.45,165.76 L307.95,166.28 L308.45,166.84 L308.95,167.41 L309.45,167.99 L309.95,168.56 L310.45,169.12 L310.95,169.65 L311.45,170.14 L311.95,170.57 L312.45,170.98 L312.95,171.37 L313.45,171.76 L313.95,172.13 L314.45,172.49 L314.95,172.81 L315.45,173.11 L315.95,173.37 L316.45,173.59 L316.95,173.77 L317.45,173.91 L317.95,174.02 L318.45,174.12 L318.95,174.20 L319.45,174.29 L319.95,174.38 L320.45,174.49 L320.95,174.62 L321.45,174.79 L321.95,175.03 L322.45,175.36 L322.95,175.77 L323.45,176.26 L323.95,176.79 L324.45,177.36 L324.95,177.95 L325.45,178.55 L325.95,179.14 L326.45,179.71 L326.95,180.30 L327.45,180.92 L327.95,181.56 L328.45,182.22 L328.95,182.90 L329.45,183.59 L329.95,184.30 L330.45,185.01 L330.95,185.74 L331.45,186.50 L331.95,187.29 L332.45,188.12 L332.95,188.96 L333.45,189.80 L333.95,190.63 L334.45,191.43 L334.95,192.21 L335.45,192.93 L335.95,193.61 L336.45,194.26 L336.95,194.89 L337.45,195.50 L337.95,196.10 L338.45,196.68 L338.95,197.26 L339.45,197.84 L339.95,198.41 L340.45,198.98 L340.95,199.53 L341.45,200.07 L341.95,200.60 L342.45,201.13 L342.95,201.66 L343.45,202.20 L343.95,202.74 L344.45,203.31 L344.95,203.89 L345.45,204.50 L345.95,205.13 L346.45,205.77 L346.95,206.42 L347.45,207.07 L347.95,207.71 L348.45,208.34 L348.95,208.94 L349.45,209.51 L349.95,210.06 L350.45,210.60 L350.95,211.12 L351.45,211.64 L351.95,212.15 L352.45,212.65 L352.95,213.15 L353.45,213.65 L353.95,214.16 L354.45,214.66 L354.95,215.16 L355.45,215.65 L355.95,216.15 L356.45,216.64 L356.95,217.13 L357.45,217.64 L357.95,218.15 L358.45,218.67 L358.95,219.20 L359.45,219.74 L359.95,220.29 L360.45,220.84 L360.95,221.39 L361.45,221.95 L361.95,222.50 L362.45,223.06 L362.95,223.61 L363.45,224.17 L363.95,224.74 L364.45,225.31 L364.95,225.87 L365.45,226.44 L365.95,226.99 L366.45,227.53 L366.95,228.05 L367.45,228.55 L367.95,229.03 L368.45,229.50 L368.95,229.96 L369.45,230.40 L369.95,230.85 L370.45,231.29 L370.95,231.72 L371.45,232.16 L371.95,232.59 L372.45,233.03 L372.95,233.46 L373.45,233.88 L373.95,234.31 L374.45,234.73 L374.95,235.14 L375.45,235.55 L375.95,235.96 L376.00,236.00" fill="none" stroke="#66ff00" stroke-width="2.2" stroke-linejoin="round"/>
<path d="M42.95,268.60L46.85,275.20L39.05,275.20ZM49.14,273.60L53.04,280.20L45.24,280.20ZM55.30,273.60L59.20,280.20L51.40,280.20ZM61.43,273.60L65.33,280.20L57.53,280.20ZM67.54,273.60L71.44,280.20L63.64,280.20ZM73.61,273.60L77.51,280.20L69.71,280.20ZM79.65,273.60L83.55,280.20L75.75,280.20ZM85.67,273.60L89.57,280.20L81.77,280.20ZM91.65,273.60L95.55,280.20L87.75,280.20ZM97.61,273.60L101.51,280.20L93.71,280.20ZM103.54,273.60L107.44,280.20L99.64,280.20ZM109.44,273.60L113.34,280.20L105.54,280.20ZM115.31,270.90L119.21,277.50L111.41,277.50ZM121.15,270.90L125.05,277.50L117.25,277.50ZM126.96,273.60L130.86,280.20L123.06,280.20ZM132.74,273.60L136.64,280.20L128.84,280.20ZM138.49,271.60L142.39,278.20L134.59,278.20ZM144.22,266.90L148.12,273.50L140.32,273.50ZM149.91,266.30L153.81,272.90L146.01,272.90ZM155.58,265.90L159.48,272.50L151.68,272.50ZM161.21,255.10L165.11,261.70L157.31,261.70ZM166.82,231.60L170.72,238.20L162.92,238.20ZM172.40,208.10L176.30,214.70L168.50,214.70ZM177.95,182.10L181.85,188.70L174.05,188.70ZM183.47,151.10L187.37,157.70L179.57,157.70ZM188.96,119.60L192.86,126.20L185.06,126.20ZM194.42,91.10L198.32,97.70L190.52,97.70ZM199.85,66.80L203.75,73.40L195.95,73.40ZM205.25,48.80L209.15,55.40L201.35,55.40ZM210.63,33.10L214.53,39.70L206.73,39.70ZM215.97,24.50L219.87,31.10L212.07,31.10ZM221.29,20.90L225.19,27.50L217.39,27.50ZM226.57,18.60L230.47,25.20L222.67,25.20ZM231.83,21.80L235.73,28.40L227.93,28.40ZM237.06,28.60L240.96,35.20L233.16,35.20ZM242.26,37.50L246.16,44.10L238.36,44.10ZM247.43,45.30L251.33,51.90L243.53,51.90ZM252.57,53.50L256.47,60.10L248.67,60.10ZM257.68,63.00L261.58,69.60L253.78,69.60ZM262.76,73.10L266.66,79.70L258.86,79.70ZM267.82,85.60L271.72,92.20L263.92,92.20ZM272.84,97.10L276.74,103.70L268.94,103.70ZM277.84,107.20L281.74,113.80L273.94,113.80ZM282.80,118.60L286.70,125.20L278.90,125.20ZM287.74,132.40L291.64,139.00L283.84,139.00ZM292.65,144.80L296.55,151.40L288.75,151.40ZM297.52,151.60L301.42,158.20L293.62,158.20ZM302.37,156.80L306.27,163.40L298.47,163.40ZM307.19,161.10L311.09,167.70L303.29,167.70ZM311.98,166.20L315.88,172.80L308.08,172.80ZM316.75,169.30L320.65,175.90L312.85,175.90ZM321.48,170.40L325.38,177.00L317.58,177.00ZM326.18,175.00L330.08,181.60L322.28,181.60ZM330.86,181.20L334.76,187.80L326.96,187.80ZM335.50,188.60L339.40,195.20L331.60,195.20ZM340.12,194.20L344.02,200.80L336.22,200.80ZM344.70,199.20L348.60,205.80L340.80,205.80ZM349.26,204.90L353.16,211.50L345.36,211.50ZM353.79,209.60L357.69,216.20L349.89,216.20ZM358.29,214.10L362.19,220.70L354.39,220.70ZM362.76,219.00L366.66,225.60L358.86,225.60ZM367.20,223.90L371.10,230.50L363.30,230.50ZM371.61,227.90L375.51,234.50L367.71,234.50ZM376.00,231.60L379.90,238.20L372.10,238.20Z" fill="#66ff00"/>
<path d="M43.60,17.00 L44.10,22.86 L44.60,28.30 L45.10,33.22 L45.60,37.49 L46.10,41.11 L46.60,44.37 L47.10,47.31 L47.60,49.92 L48.10,52.19 L48.60,54.12 L49.10,55.79 L49.60,57.27 L50.10,58.64 L50.60,59.98 L51.10,61.36 L51.60,62.74 L52.10,64.11 L52.60,65.44 L53.10,66.71 L53.60,67.91 L54.10,69.04 L54.60,70.14 L55.10,71.21 L55.60,72.25 L56.10,73.26 L56.60,74.22 L57.10,75.15 L57.60,76.02 L58.10,76.84 L58.60,77.60 L59.10,78.30 L59.60,78.96 L60.10,79.58 L60.60,80.17 L61.10,80.73 L61.60,81.29 L62.10,81.83 L62.60,82.38 L63.10,82.94 L63.60,83.54 L64.10,84.15 L64.60,84.78 L65.10,85.40 L65.60,86.00 L66.10,86.57 L66.60,87.09 L67.10,87.56 L67.60,87.95 L68.10,88.26 L68.60,88.48 L69.10,88.67 L69.60,88.86 L70.10,89.04 L70.60,89.21 L71.10,89.36 L71.60,89.50 L72.10,89.62 L72.60,89.72 L73.10,89.80 L73.60,89.86 L74.10,89.89 L74.60,89.90 L75.10,89.88 L75.60,89.85 L76.10,89.80 L76.60,89.73 L77.10,89.64 L77.60,89.55 L78.10,89.44 L78.60,89.33 L79.10,89.20 L79.60,89.07 L80.10,88.88 L80.60,88.59 L81.10,88.24 L81.60,87.82 L82.10,87.36 L82.60,86.87 L83.10,86.35 L83.60,85.82 L84.10,85.30 L84.60,84.80 L85.10,84.33 L85.60,83.90 L86.10,83.53 L86.60,83.21 L87.10,82.88 L87.60,82.54 L88.10,82.20 L88.60,81.87 L89.10,81.57 L89.60,81.28 L90.10,81.04 L90.60,80.84 L91.10,80.69 L91.60,80.61 L92.10,80.60 L92.60,80.60 L93.10,80.61 L93.60,80.61 L94.10,80.62 L94.60,80.64 L95.10,80.65 L95.60,80.67 L96.10,80.69 L96.60,80.71 L97.10,80.74 L97.60,80.77 L98.10,80.80 L98.60,80.89 L99.10,81.08 L99.60,81.36 L100.10,81.71 L100.60,82.10 L101.10,82.51 L101.60,82.94 L102.10,83.36 L102.60,83.76 L103.10,84.17 L103.60,84.61 L104.10,85.08 L104.60,85.56 L105.10,86.06 L105.60,86.57 L106.10,87.09 L106.60,87.60 L107.10,88.11 L107.60,88.62 L108.10,89.13 L108.60,89.65 L109.10,90.21 L109.60,90.79 L110.10,91.42 L110.60,92.11 L111.10,92.87 L111.60,93.74 L112.10,94.72 L112.60,95.78 L113.10,96.91 L113.60,98.07 L114.10,99.27 L114.60,100.47 L115.10,101.65 L115.60,102.80 L116.10,103.93 L116.60,105.05 L117.10,106.18 L117.60,107.30 L118.10,108.44 L118.60,109.59 L119.10,110.75 L119.60,111.92 L120.10,113.11 L120.60,114.33 L121.10,115.57 L121.60,116.84 L122.10,118.14 L122.60,119.47 L123.10,120.86 L123.60,122.29 L124.10,123.75 L124.60,125.24 L125.10,126.75 L125.60,128.28 L126.10,129.82 L126.60,131.37 L127.10,132.91 L127.60,134.46 L128.10,136.02 L128.60,137.60 L129.10,139.19 L129.60,140.78 L130.10,142.39 L130.60,144.01 L131.10,145.64 L131.60,147.27 L132.10,148.91 L132.60,150.55 L133.10,152.20 L133.60,153.85 L134.10,155.50 L134.60,157.16 L135.10,158.85 L135.60,160.55 L136.10,162.26 L136.60,163.97 L137.10,165.67 L137.60,167.35 L138.10,169.02 L138.60,170.65 L139.10,172.27 L139.60,173.88 L140.10,175.48 L140.60,177.07 L141.10,178.65 L141.60,180.22 L142.10,181.79 L142.60,183.34 L143.10,184.90 L143.60,186.44 L144.10,187.98 L144.60,189.52 L145.10,191.05 L145.60,192.58 L146.10,194.11 L146.60,195.62 L147.10,197.13 L147.60,198.62 L148.10,200.10 L148.60,201.58 L149.10,203.06 L149.60,204.54 L150.10,206.01 L150.60,207.50 L151.10,208.99 L151.60,210.49 L152.10,212.00 L152.60,213.53 L153.10,215.09 L153.60,216.67 L154.10,218.26 L154.60,219.84 L155.10,221.43 L155.60,223.00 L156.10,224.55 L156.60,226.07 L157.10,227.56 L157.60,229.00 L158.10,230.42 L158.60,231.85 L159.10,233.28 L159.60,234.69 L160.10,236.07 L160.60,237.41 L161.10,238.70 L161.60,239.94 L162.10,241.11 L162.60,242.19 L163.10,243.21 L163.60,244.18 L164.10,245.11 L164.60,246.01 L165.10,246.87 L165.60,247.71 L166.10,248.52 L166.60,249.31 L167.10,250.08 L167.60,250.83 L168.10,251.57 L168.60,252.30 L169.10,253.01 L169.60,253.73 L170.10,254.44 L170.60,255.15 L171.10,255.84 L171.60,256.53 L172.10,257.19 L172.60,257.84 L173.10,258.46 L173.60,259.05 L174.10,259.60 L174.60,260.12 L175.10,260.59 L175.60,261.04 L176.10,261.46 L176.60,261.86 L177.10,262.25 L177.60,262.61 L178.10,262.97 L178.60,263.31 L179.10,263.65 L179.60,263.97 L180.10,264.30 L180.60,264.61 L181.10,264.93 L181.60,265.25 L182.10,265.56 L182.60,265.89 L183.10,266.21 L183.60,266.54 L184.10,266.86 L184.60,267.18 L185.10,267.48 L185.60,267.77 L186.10,268.04 L186.60,268.29 L187.10,268.52 L187.60,268.72 L188.10,268.91 L188.60,269.09 L189.10,269.27 L189.60,269.44 L190.10,269.59 L190.60,269.75 L191.10,269.89 L191.60,270.03 L192.10,270.16 L192.60,270.29 L193.10,270.41 L193.60,270.53 L194.10,270.65 L194.60,270.76 L195.10,270.87 L195.60,270.97 L196.10,271.08 L196.60,271.18 L197.10,271.27 L197.60,271.36 L198.10,271.45 L198.60,271.53 L199.10,271.61 L199.60,271.68 L200.10,271.75 L200.60,271.81 L201.10,271.87 L201.60,271.93 L202.10,271.98 L202.60,272.04 L203.10,272.09 L203.60,272.14 L204.10,272.19 L204.60,272.24 L205.10,272.29 L205.60,272.33 L206.10,272.37 L206.60,272.41 L207.10,272.45 L207.60,272.48 L208.10,272.51 L208.60,272.54 L209.10,272.56 L209.60,272.58 L210.10,272.60 L210.60,272.62 L211.10,272.64 L211.60,272.65 L212.10,272.67 L212.60,272.69 L213.10,272.70 L213.60,272.72 L214.10,272.73 L214.60,272.75 L215.10,272.76 L215.60,272.78 L216.10,272.79 L216.60,272.81 L217.10,272.82 L217.60,272.83 L218.10,272.84 L218.60,272.86 L219.10,272.87 L219.60,272.88 L220.10,272.89 L220.60,272.90 L221.10,272.91 L221.60,272.92 L222.10,272.93 L222.60,272.94 L223.10,272.94 L223.60,272.95 L224.10,272.96 L224.60,272.97 L225.10,272.97 L225.60,272.98 L226.10,272.98 L226.60,272.99 L227.10,272.99 L227.60,272.99 L228.10,273.00 L228.60,273.00 L229.10,273.00 L229.60,273.00 L230.10,273.00 L230.60,273.00 L231.10,273.00 L231.60,273.00 L232.10,273.00 L232.60,273.00 L233.10,273.00 L233.60,273.00 L234.10,273.00 L234.60,273.00 L235.10,273.00 L235.60,273.00 L236.10,273.00 L236.60,273.00 L237.10,273.00 L237.60,273.00 L238.10,273.00 L238.60,273.00 L239.10,273.00 L239.60,273.00 L240.10,273.00 L240.60,273.00 L241.10,273.00 L241.60,273.00 L242.10,273.00 L242.60,273.00 L243.10,273.00 L243.60,273.00 L244.10,273.00 L244.60,273.00 L245.10,273.00 L245.60,273.00 L246.10,273.00 L246.60,273.00 L247.10,273.00 L247.60,273.00 L248.10,273.00 L248.60,273.00 L249.10,273.00 L249.60,273.00 L250.10,273.00 L250.60,273.00 L251.10,273.00 L251.60,273.00 L252.10,273.00 L252.60,273.00 L253.10,273.00 L253.60,273.00 L254.10,273.00 L254.60,273.00 L255.10,273.00 L255.60,273.00 L256.10,273.00 L256.60,273.00 L257.10,273.00 L257.60,273.00 L258.10,273.00 L258.60,273.00 L259.10,273.00 L259.60,273.00 L260.10,273.00 L260.60,273.00 L261.10,273.00 L261.60,273.00 L262.10,273.00 L262.60,273.00 L263.10,273.00 L263.60,273.00 L264.10,273.00 L264.60,273.00 L265.10,273.00 L265.60,273.00 L266.10,273.00 L266.60,273.00 L267.10,273.00 L267.60,273.00 L268.10,273.00 L268.60,273.00 L269.10,273.00 L269.60,273.00 L270.10,273.00 L270.60,273.00 L271.10,273.00 L271.60,273.00 L272.10,273.00 L272.60,273.00 L273.10,273.00 L273.60,273.00 L274.10,273.00 L274.60,273.00 L275.10,273.00 L275.60,273.00 L276.10,273.00 L276.60,273.00 L277.10,273.00 L277.60,273.00 L278.10,273.00 L278.60,273.00 L279.10,273.00 L279.60,273.00 L280.10,273.00 L280.60,273.00 L281.10,273.00 L281.60,273.00 L282.10,273.00 L282.60,273.00 L283.10,273.00 L283.60,273.00 L284.10,273.00 L284.60,273.00 L285.10,273.00 L285.60,273.00 L286.10,273.00 L286.60,273.00 L287.10,273.00 L287.60,273.00 L288.10,273.00 L288.60,273.00 L289.10,273.00 L289.60,273.00 L290.10,273.00 L290.60,273.00 L291.10,273.00 L291.60,273.00 L292.10,273.00 L292.60,273.00 L293.10,273.00 L293.60,273.00 L294.10,273.00 L294.60,273.00 L295.10,273.00 L295.60,273.00 L296.10,273.00 L296.60,273.00 L297.10,273.00 L297.60,273.00 L298.10,273.00 L298.60,273.00 L299.10,273.00 L299.60,273.00 L300.10,273.00 L300.60,273.00 L301.10,273.00 L301.60,273.00 L302.10,273.00 L302.60,273.00 L303.10,273.00 L303.60,273.00 L304.10,273.00 L304.60,273.00 L305.10,273.00 L305.60,273.00 L306.10,273.00 L306.60,273.00 L307.10,273.00 L307.60,273.00 L308.10,273.00 L308.60,273.00 L309.10,273.00 L309.60,273.00 L310.10,273.00 L310.60,273.00 L311.10,273.00 L311.60,273.00 L312.10,273.00 L312.60,273.00 L313.10,273.00 L313.60,273.00 L314.10,273.00 L314.60,273.00 L315.10,273.00 L315.60,273.00 L316.10,273.00 L316.60,273.00 L317.10,273.00 L317.60,273.00 L318.10,273.00 L318.60,273.00 L319.10,273.00 L319.60,273.00 L320.10,273.00 L320.60,273.00 L321.10,273.00 L321.60,273.00 L322.10,273.00 L322.60,273.00 L323.10,273.00 L323.60,273.00 L324.10,273.00 L324.60,273.00 L325.10,273.00 L325.60,273.00 L326.10,273.00 L326.60,273.00 L327.10,273.00 L327.60,273.00 L328.10,273.00 L328.60,273.00 L329.10,273.00 L329.60,273.00 L330.10,273.00 L330.60,273.00 L331.10,273.00 L331.60,273.00 L332.10,273.00 L332.60,273.00 L333.10,273.00 L333.60,273.00 L334.10,273.00 L334.60,273.00 L335.10,273.00 L335.60,273.00 L336.10,273.00 L336.60,273.00 L337.10,273.00 L337.60,273.00 L338.10,273.00 L338.60,273.00 L339.10,273.00 L339.60,273.00 L340.10,273.00 L340.60,273.00 L341.10,273.00 L341.60,273.00 L342.10,273.00 L342.60,273.00 L343.10,273.00 L343.60,273.00 L344.10,273.00 L344.60,273.00 L345.10,273.00 L345.60,273.00 L346.10,273.00 L346.60,273.00 L347.10,273.00 L347.60,273.00 L348.10,273.00 L348.60,273.00 L349.10,273.00 L349.60,273.00 L350.10,273.00 L350.60,273.00 L351.10,273.00 L351.60,273.00 L352.10,273.00 L352.60,273.00 L353.10,273.00 L353.60,273.00 L354.10,273.00 L354.60,273.00 L355.10,273.00 L355.60,273.00 L356.10,273.00 L356.60,273.00 L357.10,273.00 L357.60,273.00 L358.10,273.00 L358.60,273.00 L359.10,273.00 L359.60,273.00 L360.10,273.00 L360.60,273.00 L361.10,273.00 L361.60,273.00 L362.10,273.00 L362.60,273.00 L363.10,273.00 L363.60,273.00 L364.10,273.00 L364.60,273.00 L365.10,273.00 L365.60,273.00 L366.10,273.00 L366.60,273.00 L367.10,273.00 L367.60,273.00 L368.10,273.00 L368.60,273.00 L369.10,273.00 L369.60,273.00 L370.10,273.00 L370.60,273.00 L371.10,273.00 L371.60,273.00 L372.10,273.00 L372.60,273.00 L373.10,273.00 L373.60,273.00 L374.10,273.00 L374.60,273.00 L375.10,273.00 L375.60,273.00 L376.00,273.00" fill="none" stroke="#0000d0" stroke-width="2.2" stroke-linejoin="round"/>
<path d="M46.75,58.67L55.15,58.67L50.95,65.47ZM58.62,80.35L67.02,80.35L62.82,87.15ZM70.48,87.63L78.88,87.63L74.68,94.43ZM82.34,80.98L90.75,80.98L86.55,87.78ZM94.21,78.58L102.61,78.58L98.41,85.38ZM106.08,89.39L114.48,89.39L110.28,96.19ZM117.94,115.97L126.34,115.97L122.14,122.77ZM129.81,152.92L138.20,152.92L134.00,159.72ZM141.67,191.14L150.07,191.14L145.87,197.94ZM153.54,227.12L161.94,227.12L157.74,233.92ZM165.40,251.46L173.80,251.46L169.60,258.26ZM177.27,262.89L185.67,262.89L181.47,269.69ZM189.13,268.20L197.53,268.20L193.33,275.00ZM201.00,270.03L209.39,270.03L205.19,276.83ZM212.86,270.55L221.26,270.55L217.06,277.35ZM224.73,270.73L233.12,270.73L228.93,277.53ZM236.59,270.73L244.99,270.73L240.79,277.53ZM248.46,270.73L256.86,270.73L252.66,277.53ZM260.32,270.73L268.72,270.73L264.52,277.53ZM272.19,270.73L280.58,270.73L276.38,277.53ZM284.05,270.73L292.45,270.73L288.25,277.53ZM295.92,270.73L304.31,270.73L300.12,277.53ZM307.78,270.73L316.18,270.73L311.98,277.53ZM319.64,270.73L328.04,270.73L323.84,277.53ZM331.51,270.73L339.91,270.73L335.71,277.53ZM343.38,270.73L351.77,270.73L347.57,277.53ZM355.24,270.73L363.64,270.73L359.44,277.53ZM367.11,270.73L375.50,270.73L371.31,277.53Z" fill="#0000d0"/>
</g>
<g stroke="#464646" stroke-width="2" fill="none">
<line x1="42" y1="5" x2="42" y2="273.4" stroke="#606060"/>
<line x1="36" y1="6" x2="375" y2="6"/>
</g>
<rect x="270" y="11" width="99" height="59" fill="#fff"/>
<g stroke-width="1" fill="none"><line x1="270" y1="11.5" x2="369" y2="11.5" stroke="#555"/><line x1="270.5" y1="11" x2="270.5" y2="70" stroke="#999"/><line x1="368.5" y1="11" x2="368.5" y2="70" stroke="#444"/><line x1="270" y1="69.5" x2="369" y2="69.5" stroke="#3a3a3a"/></g>
<line x1="271" y1="19.6" x2="297.8" y2="19.6" stroke="#0000d0" stroke-width="2.2"/><path d="M280.50,17.47L288.30,17.47L284.40,23.87Z" fill="#0000d0"/><line x1="271" y1="33.6" x2="297.8" y2="33.6" stroke="#66ff00" stroke-width="2.2"/><path d="M284.40,29.60L287.90,35.60L280.90,35.60Z" fill="#66ff00"/><line x1="271" y1="47.6" x2="297.8" y2="47.6" stroke="#dd88ff" stroke-width="2.2"/><path d="M281.70,44.90h5.4v5.4h-5.4Z" fill="#dd88ff"/><line x1="271" y1="61.6" x2="297.8" y2="61.6" stroke="#ff8000" stroke-width="2.2"/><circle cx="284.4" cy="61.6" r="2.85" fill="#ff8000"/><g font-family="Liberation Sans, sans-serif" font-size="11.6" fill="#000" stroke="#000" stroke-width="0.25"><text x="300.2" y="23.50">Ems: 680 nm</text><text x="300.2" y="37.50">Exc: 305 nm</text><text x="300.2" y="51.50">Exc: 435 nm</text><text x="300.2" y="65.50">Exc: 475 nm</text></g>
<g font-family="Liberation Sans, sans-serif" font-size="11.6" fill="#000" stroke="#000" stroke-width="0.25"><text x="42.00" y="290.5" text-anchor="middle">300</text><text x="89.43" y="290.5" text-anchor="middle">400</text><text x="136.86" y="290.5" text-anchor="middle">500</text><text x="184.29" y="290.5" text-anchor="middle">600</text><text x="231.71" y="290.5" text-anchor="middle">700</text><text x="279.14" y="290.5" text-anchor="middle">800</text><text x="326.57" y="290.5" text-anchor="middle">900</text><text x="374.00" y="290.5" text-anchor="middle">1000</text><text x="33.4" y="276.70" text-anchor="end">0.0</text><text x="33.4" y="209.85" text-anchor="end">0.2</text><text x="33.4" y="143.00" text-anchor="end">0.4</text><text x="33.4" y="76.15" text-anchor="end">0.6</text><text x="33.4" y="9.30" text-anchor="end">0.8</text></g>
<text x="208.4" y="312.2" text-anchor="middle" font-family="Liberation Sans, sans-serif" font-size="14.1" fill="#000" stroke="#000" stroke-width="0.12">Wavelength (nm)</text>
<text transform="translate(11.8,140.0) rotate(-90)" text-anchor="middle" font-family="Liberation Sans, sans-serif" font-size="14.0" fill="#000" stroke="#000" stroke-width="0.12">Intensity</text>
</svg></body></html>
